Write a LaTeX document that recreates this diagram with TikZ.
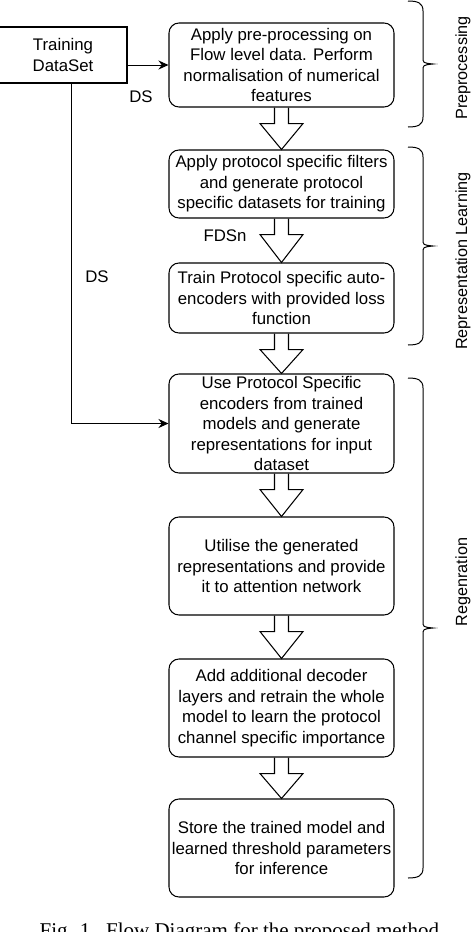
\documentclass[tikz,border=0pt]{standalone}
\usepackage{fontspec}
\setmainfont{Liberation Sans}
\newfontfamily\capfont{Liberation Serif}
\usetikzlibrary{calc,arrows.meta}
\newcommand{\blockarr}[2]{%
  \draw[blk] ($(#1.south)+(-7,0)$) -- ($(#1.south)+(-7,16)$) -- ($(#1.south)+(-21.5,16)$)
    -- (#2.north) -- ($(#1.south)+(21.5,16)$) -- ($(#1.south)+(7,16)$) -- ($(#1.south)+(7,0)$);}
\newcommand{\curly}[3]{%
  \draw[bracestyle] (408,#1) .. controls (418,#1) and (423,#1+2) .. (423,#1+10)
    -- (423,#2-7) .. controls (423,#2-1) .. (433,#2)
    .. controls (423,#2+1) .. (423,#2+7)
    -- (423,#3-10) .. controls (423,#3-2) and (418,#3) .. (408,#3);}
\begin{document}
\begin{tikzpicture}[x=1pt,y=-1pt,
  proc/.style={draw, line width=1.05pt, rounded corners=10pt, minimum width=225pt,
    inner sep=1pt, align=center, font=\fontsize{16.8}{20.5}\selectfont},
  plainbox/.style={draw, line width=1.05pt, minimum width=128pt, minimum height=56pt,
    inner sep=1pt, align=center, font=\fontsize{16.8}{20.5}\selectfont},
  lbl/.style={font=\fontsize{16.8}{20}\selectfont, inner sep=0pt},
  sidelbl/.style={font=\fontsize{16.2}{20}\selectfont, inner sep=0pt, rotate=90},
  arr/.style={line width=1pt, -{Stealth[length=10pt,width=9pt]}},
  blk/.style={line width=1.05pt, line join=miter},
  bracestyle/.style={line width=1pt},
]
\useasboundingbox (0,0) rectangle (474,932);

\node[plainbox] (train) at (63,55) {Training\\DataSet};

\node[proc, minimum height=84pt] (b1) at (281.5,65)
  {Apply pre-processing on\\Flow level data. Perform\\normalisation of numerical\\features};
\node[proc, minimum height=68pt] (b2) at (281.5,184)
  {Apply protocol specific filters\\and generate protocol\\specific datasets for training};
\node[proc, minimum height=70pt] (b3) at (281.5,298)
  {Train Protocol specific auto-\\encoders with provided loss\\function};
\node[proc, minimum height=99pt] (b4) at (281.5,423.5)
  {Use Protocol Specific\\encoders from trained\\models and generate\\representations for input\\dataset};
\node[proc, minimum height=98pt] (b5) at (281.5,566)
  {Utilise the generated\\representations and provide\\it to attention network};
\node[proc, minimum height=98pt] (b6) at (281.5,708)
  {Add additional decoder\\layers and retrain the whole\\model to learn the protocol\\channel specific importance};
\node[proc, minimum height=98pt] (b7) at (281.5,848)
  {Store the trained model and\\learned threshold parameters\\for inference};

\blockarr{b1}{b2}
\blockarr{b2}{b3}
\blockarr{b3}{b4}
\blockarr{b4}{b5}
\blockarr{b5}{b6}
\blockarr{b6}{b7}

\draw[arr] (train.east |- b1.west) -- (b1.west);
\draw[arr] ($(train.south)+(8,0)$) |- (b4.west);

\node[lbl] (ds1) at (141,97) {DS};
\node[lbl] (fdsn) at (225,236) {FDSn};
\node[lbl] (ds2) at (97,277) {DS};

\curly{1}{64}{127}
\curly{147}{246}{345}
\curly{378}{628}{878}

\node[sidelbl] (lpre) at (463,68) {Preprocessing};
\node[sidelbl] (lrep) at (463,261) {Representation Learning};
\node[sidelbl] (lreg) at (463,582) {Regenration};

\node[font=\capfont\fontsize{21}{24}\selectfont, anchor=base, inner sep=0pt] (cap) at (242,937)
  {Fig. 1.\ \ Flow Diagram for the proposed method.};
\end{tikzpicture}
\end{document}
